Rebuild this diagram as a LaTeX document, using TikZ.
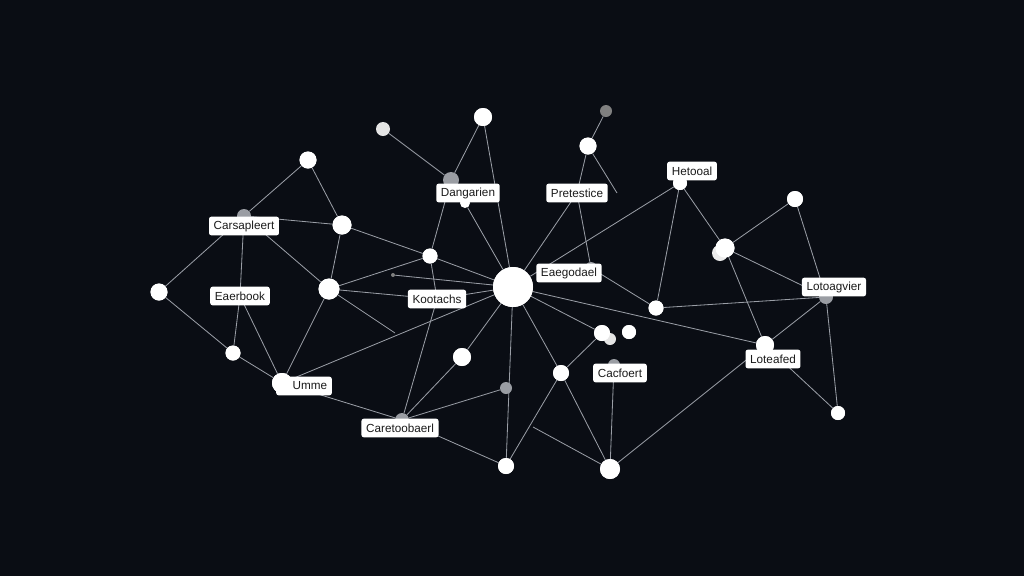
\documentclass[tikz,border=0pt]{standalone}
\usepackage{fontspec}
\setmainfont{Liberation Sans}
\usepackage{tikz, xcolor}

\definecolor{bgnavy}{HTML}{0A0D14}
\definecolor{edgegray}{HTML}{9A9EA6}
\definecolor{ghost}{HTML}{9A9DA3}
\definecolor{labeltext}{HTML}{1A1A1A}

\begin{document}
\begin{tikzpicture}
	[
		x=0.03cm, y=-0.03cm,
		dot/.style={circle, fill=white, inner sep=0pt, minimum size=#1*0.03cm},
		dot/.default=16,
		ghostdot/.style={circle, fill=ghost, inner sep=0pt, minimum size=#1*0.03cm},
		ghostdot/.default=12,
		tag/.style={fill=white, rounded corners=2pt, inner xsep=4pt, inner ysep=0pt,
			minimum height=0.56cm, text=labeltext, font=\fontsize{10}{11}\selectfont},
		link/.style={draw=edgegray, line width=0.7pt}
	]

	% Background.
	\fill[bgnavy] (0,0) rectangle (1024,576);

	% Draw points.
	\node[dot=40] (hub) at (513,287) {};
	\node[dot=18] (a) at (483,117) {};
	\node[dot=14, fill=white!80!gray] (b) at (383,129) {};
	\node[ghostdot=12, fill=gray] (c) at (606,111) {};
	\node[dot=17] (d) at (588,146) {};
	\node[dot=17] (e) at (308,160) {};
	\node[dot=19] (f) at (342,225) {};
	\node[dot=15] (g) at (430,256) {};
	\node[dot=21] (h) at (329,289) {};
	\node[dot=17] (i) at (159,292) {};
	\node[dot=15] (j) at (233,353) {};
	\node[dot=20] (k) at (282,383) {};
	\node[dot=18] (l) at (462,357) {};
	\node[ghostdot=12] (m) at (506,388) {};
	\node[dot=16] (n) at (561,373) {};
	\node[dot=16] (o) at (602,333) {};
	\node[ghostdot=12, fill=white!80!gray] (p) at (610,339) {};
	\node[dot=14] (q) at (629,332) {};
	\node[dot=15] (r) at (656,308) {};
	\node[ghostdot=16, fill=white!85!gray] (s0) at (720,253) {};
	\node[dot=19] (s) at (725,248) {};
	\node[dot=16] (t) at (795,199) {};
	\node[dot=14] (u) at (838,413) {};
	\node[dot=16] (v) at (506,466) {};
	\node[dot=20] (w) at (610,469) {};
	\node[ghostdot=4, fill=gray] (x) at (393,275) {};
	\coordinate (dtail) at (617,193);
	\coordinate (htail) at (395,333);
	\coordinate (wtail) at (533,427);

	% Points hidden behind the labels.
	\node[ghostdot=14] (csp0) at (244,216) {};
	\coordinate (eae0) at (240,296);
	\node[ghostdot=16] (dng0) at (451,180) {};
	\node[dot=10] (dng1) at (465,203) {};
	\coordinate (prt0) at (577,193);
	\node[dot=14] (het0) at (680,183) {};
	\node[ghostdot=12] (egd0) at (591,268) {};
	\coordinate (koo0) at (437,299);
	\node[ghostdot=14] (lot0) at (826,297) {};
	\node[dot=18] (ltf0) at (765,345) {};
	\node[ghostdot=12] (caf0) at (614,365) {};
	\node[ghostdot=14] (crt0) at (402,420) {};

	% Draw links.
	\draw[link] (b) -- (dng0);
	\draw[link] (a) -- (dng0);
	\draw[link] (a) -- (hub);
	\draw[link] (dng1) -- (hub);
	\draw[link] (c) -- (d);
	\draw[link] (d) -- (prt0);
	\draw[link] (d) -- (dtail);
	\draw[link] (prt0) -- (hub);
	\draw[link] (prt0) -- (egd0);
	\draw[link] (het0) -- (hub);
	\draw[link] (het0) -- (r);
	\draw[link] (het0) -- (s);
	\draw[link] (t) -- (s);
	\draw[link] (t) -- (lot0);
	\draw[link] (s) -- (lot0);
	\draw[link] (s) -- (ltf0);
	\draw[link] (r) -- (lot0);
	\draw[link] (lot0) -- (ltf0);
	\draw[link] (lot0) -- (u);
	\draw[link] (ltf0) -- (u);
	\draw[link] (ltf0) -- (w);
	\draw[link] (hub) -- (ltf0);
	\draw[link] (hub) -- (o);
	\draw[link] (egd0) -- (r);
	\draw[link] (o) -- (n);
	\draw[link] (n) -- (hub);
	\draw[link] (n) -- (v);
	\draw[link] (n) -- (w);
	\draw[link] (caf0) -- (w);
	\draw[link] (wtail) -- (w);
	\draw[link] (hub) -- (v);
	\draw[link] (l) -- (hub);
	\draw[link] (crt0) -- (l);
	\draw[link] (crt0) -- (m);
	\draw[link] (crt0) -- (v);
	\draw[link] (koo0) -- (crt0);
	\draw[link] (koo0) -- (hub);
	\draw[link] (k) -- (crt0);
	\draw[link] (k) -- (hub);
	\draw[link] (h) -- (k);
	\draw[link] (h) -- (htail);
	\draw[link] (eae0) -- (k);
	\draw[link] (eae0) -- (j);
	\draw[link] (i) -- (j);
	\draw[link] (j) -- (k);
	\draw[link] (csp0) -- (i);
	\draw[link] (csp0) -- (eae0);
	\draw[link] (csp0) -- (h);
	\draw[link] (csp0) -- (f);
	\draw[link] (e) -- (csp0);
	\draw[link] (e) -- (f);
	\draw[link] (f) -- (h);
	\draw[link] (f) -- (g);
	\draw[link] (g) -- (dng0);
	\draw[link] (g) -- (hub);
	\draw[link] (g) -- (h);
	\draw[link] (g) -- (koo0);
	\draw[link] (h) -- (koo0);
	\draw[link] (x) -- (hub);

	% Redraw points over links.
	\foreach \nm/\sz in {hub/40,a/18,d/17,e/17,f/19,g/15,h/21,i/17,j/15,k/20,l/18,n/16,o/16,q/14,r/15,s/19,t/16,u/14,v/16,w/20,ltf0/18,het0/14}
		\fill[white] (\nm) circle (\sz*0.015cm);

	% Draw labels.
	\node[tag] (carsapleert) at (244,226) {Carsapleert};
	\node[tag] (eaerbook) at (240,296) {Eaerbook};
	\node[tag] (dangarien) at (468,193) {Dangarien};
	\node[tag] (pretestice) at (577,193) {Pretestice};
	\node[tag] (hetooal) at (692,171) {Hetooal};
	\node[tag] (eaegodael) at (569,273) {Eaegodael};
	\node[tag] (kootachs) at (437,299) {Kootachs};
	\node[tag] (lotoagvier) at (834,287) {Lotoagvier};
	\node[tag] (loteafed) at (773,359) {Loteafed};
	\node[tag] (cacfoert) at (620,373) {Cacfoert};
	\node[tag, anchor=west] (umme) at (276,386) {\hspace{10pt}Umme};
	\node[tag] (caretoobaerl) at (400,428) {Caretoobaerl};
	\fill[white] (k) circle (0.3cm);
\end{tikzpicture}
\end{document}
